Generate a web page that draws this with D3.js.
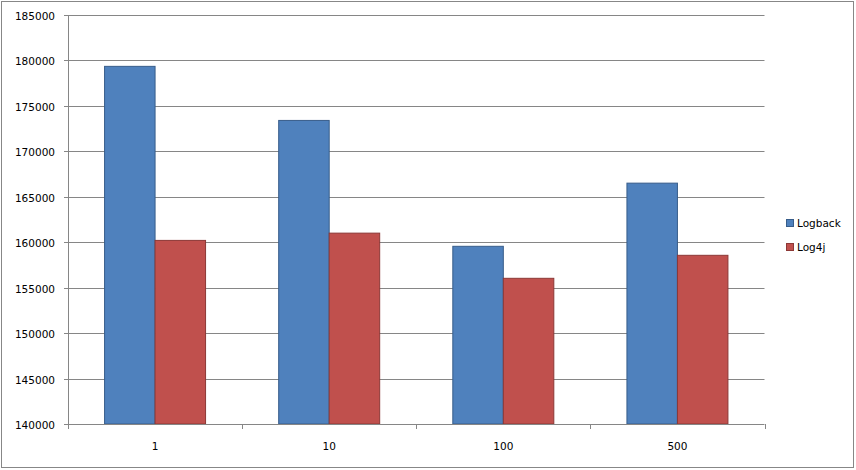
<!DOCTYPE html>
<html>
<head>
<meta charset="utf-8">
<script src="https://cdn.jsdelivr.net/npm/d3@7"></script>
<style>
  html, body { margin: 0; padding: 0; background: #fff; }
  svg { display: block; }
  text { font-family: "DejaVu Sans", Verdana, sans-serif; font-size: 10.5px; fill: #000; }
</style>
</head>
<body>
<svg id="chart" width="856" height="470"></svg>
<script>
const categories = ["1", "10", "100", "500"];
const seriesNames = ["Logback", "Log4j"];
const logbackValues = [179350, 173400, 159550, 166500];
const log4jValues = [160200, 161000, 156030, 158560];
const yTicks = [140000, 145000, 150000, 155000, 160000, 165000, 170000, 175000, 180000, 185000];
const colors = ["#4F81BD", "#C0504D"];
const strokes = ["#385D8A", "#8C3836"];

const seriesValues = [logbackValues, log4jValues];
const W = 856, H = 470;
const plot = { left: 68, top: 15, right: 764.5, bottom: 424 };

const svg = d3.select("#chart");

// outer border
svg.append("rect")
  .attr("x", 1.5).attr("y", 1.5)
  .attr("width", W - 4).attr("height", H - 4)
  .attr("fill", "#fff").attr("stroke", "#878787").attr("stroke-width", 1);

const y = d3.scaleLinear().domain([140000, 185000]).range([plot.bottom, plot.top]);
const x0 = d3.scaleBand().domain(categories).range([plot.left, plot.right]).padding(0);
const groupW = x0.bandwidth() * 0.58;
const x1 = d3.scaleBand().domain(seriesNames).range([0, groupW]).padding(0);

// gridlines
svg.append("g").selectAll("line")
  .data(yTicks.filter(t => t !== 140000))
  .join("line")
  .attr("x1", plot.left - 4).attr("x2", plot.right)
  .attr("y1", d => Math.round(y(d)) + 0.5)
  .attr("y2", d => Math.round(y(d)) + 0.5)
  .attr("stroke", "#868686").attr("stroke-width", 1);

// y labels
svg.append("g").selectAll("text")
  .data(yTicks)
  .join("text")
  .attr("x", plot.left - 13)
  .attr("y", d => Math.round(y(d)) + 2)
  .attr("text-anchor", "end")
  .attr("dominant-baseline", "middle")
  .text(d => d);

// bars
const groups = svg.append("g").selectAll("g")
  .data(categories)
  .join("g")
  .attr("transform", c => `translate(${x0(c) + (x0.bandwidth() - groupW) / 2},0)`);

groups.selectAll("rect")
  .data((c, i) => seriesNames.map((s, k) => ({ s, k, v: seriesValues[k][i] })))
  .join("rect")
  .attr("x", d => x1(d.s))
  .attr("y", d => y(d.v))
  .attr("width", x1.bandwidth())
  .attr("height", d => y(140000) - y(d.v))
  .attr("fill", d => colors[d.k])
  .attr("stroke", d => strokes[d.k])
  .attr("stroke-width", 1);

// y axis line
svg.append("line")
  .attr("x1", plot.left + 0.5).attr("x2", plot.left + 0.5)
  .attr("y1", plot.top).attr("y2", plot.bottom + 0.5)
  .attr("stroke", "#868686");
// y axis left tick at bottom
svg.append("line")
  .attr("x1", plot.left - 4).attr("x2", plot.left)
  .attr("y1", Math.round(y(140000)) + 0.5).attr("y2", Math.round(y(140000)) + 0.5)
  .attr("stroke", "#868686");

// x axis
svg.append("line")
  .attr("x1", plot.left).attr("x2", plot.right)
  .attr("y1", plot.bottom + 0.5).attr("y2", plot.bottom + 0.5)
  .attr("stroke", "#868686");
const xTickPos = categories.map(c => x0(c)).concat([plot.right]);
svg.append("g").selectAll("line")
  .data(xTickPos)
  .join("line")
  .attr("x1", d => Math.round(d) + 0.5).attr("x2", d => Math.round(d) + 0.5)
  .attr("y1", plot.bottom).attr("y2", plot.bottom + 5)
  .attr("stroke", "#868686");

svg.append("g").selectAll("text")
  .data(categories)
  .join("text")
  .attr("x", c => x0(c) + x0.bandwidth() / 2)
  .attr("y", 447)
  .attr("text-anchor", "middle")
  .attr("dominant-baseline", "middle")
  .text(c => c);

// legend
const legend = svg.append("g").selectAll("g")
  .data(seriesNames)
  .join("g")
  .attr("transform", (d, i) => `translate(786,${219 + i * 24})`);
legend.append("rect")
  .attr("x", 0.5).attr("y", 0.5)
  .attr("width", 7).attr("height", 7)
  .attr("fill", (d, i) => colors[i])
  .attr("stroke", (d, i) => strokes[i]);
legend.append("text")
  .attr("x", 11).attr("y", 4.5)
  .attr("dominant-baseline", "middle")
  .text(d => d);
</script>
</body>
</html>
